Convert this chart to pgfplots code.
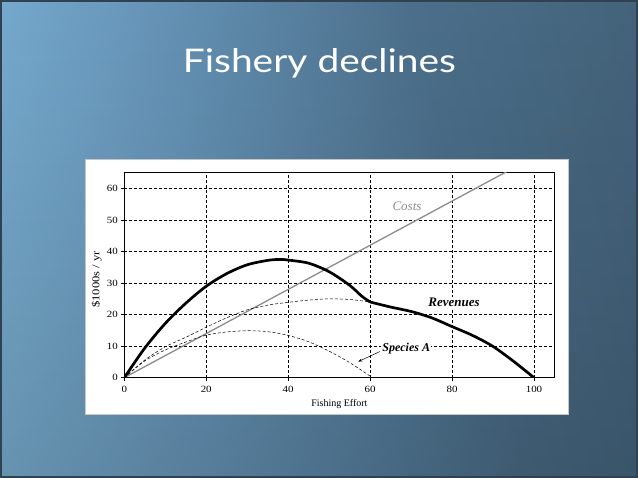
\documentclass[border=0pt]{standalone}
\usepackage{fontspec}
\setmainfont{Liberation Serif}
\newfontfamily\titlefont{Lato}
\usepackage{graphicx}
\usepackage{pgfplots}
\pgfplotsset{compat=1.18}
\usetikzlibrary{fadings,arrows.meta}

\definecolor{bgA}{RGB}{100,150,188}
\definecolor{bgB}{RGB}{128,184,220}
\definecolor{bgC}{RGB}{106,154,190}
\definecolor{bgD}{RGB}{76,112,140}
\definecolor{bgE}{RGB}{60,86,106}
\definecolor{bgEdge}{RGB}{48,66,82}
\definecolor{costgray}{RGB}{140,140,140}

\pgfdeclarehorizontalshading{slidebg}{100bp}{color(0bp)=(bgA); color(20bp)=(bgB); color(38bp)=(bgC); color(62bp)=(bgD); color(100bp)=(bgE)}

\begin{document}
\begin{tikzpicture}[x=1pt,y=1pt]
\useasboundingbox (0,0) rectangle (638,478);
% slide background
\shade[shading=slidebg, shading angle=14] (0,0) rectangle (638,478);
\fill[black, fill opacity=0.2, path fading=north] (0,0) rectangle (638,478);
\draw[bgEdge, line width=2pt] (1,1) rectangle (637,477);

% title
\node[anchor=base west, inner sep=0, text=white] at (182.7,405.7)
  {\resizebox{273pt}{24pt}{\titlefont Fishery declines}};

% white panel
\filldraw[fill=white, draw=gray!45, line width=0.8pt] (85,63.7) rectangle (568.3,318.7);

\begin{axis}[
  at={(124.3pt,100.3pt)}, anchor=south west,
  scale only axis, width=430.2pt, height=205pt,
  xmin=0, xmax=105, ymin=0, ymax=65,
  xtick={0,20,40,60,80,100},
  ytick={0,10,20,30,40,50,60},
  tick pos=left, tick align=outside, major tick length=3pt,
  every tick/.style={black, line width=0.8pt},
  grid=major,
  grid style={black, line width=0.5pt, dash pattern=on 3pt off 2pt},
  axis line style={black, line width=1pt},
  /pgf/number format/assume math mode=true,
  ticklabel style={font=\fontsize{9.5}{11}\selectfont},
  xticklabel style={yshift=-1.5pt},
  xticklabel={\scalebox{1.15}[1]{\pgfmathprintnumber{\tick}}},
  yticklabel={\scalebox{1.15}[1]{\pgfmathprintnumber{\tick}}},
  xlabel={Fishing Effort},
  xlabel style={at={(axis description cs:0.5,-0.127)}, anchor=center, font=\fontsize{10}{12}\selectfont},
  ylabel={\scalebox{1.2}[1]{\$1000s / yr}},
  ylabel style={at={(axis description cs:-0.064,0.48)}, anchor=center, font=\fontsize{10.5}{12}\selectfont},
]

% Costs
\addplot[costgray, line width=1.3pt] coordinates {(0,0) (100,70)};

% Species B (upper dashed)
\addplot[black, line width=0.5pt, dash pattern=on 3pt off 2pt, smooth, tension=0.5] coordinates {
  (0,0) (5,5.6) (10,9.8) (15,12.8) (20,16.0) (25,19.0) (30,21.5) (35,23.0)
  (40,23.9) (45,24.6) (50,25.0) (55,24.8) (60,24.0)
};

% Species A (lower dashed)
\addplot[black, line width=0.5pt, dash pattern=on 3pt off 2pt, smooth, tension=0.5] coordinates {
  (0,0) (5,5.3) (10,8.8) (15,11.3) (20,13.5) (25,14.5) (30,14.9) (35,14.6)
  (40,13.4) (45,11.4) (50,8.4) (55,4.8) (60,0.5)
};

% Revenues
\addplot[black, line width=2.7pt, line join=round, smooth, tension=0.5] coordinates {
  (0,0) (5,9.4) (10,17.2) (15,23.6) (20,29.0) (25,33.0) (30,35.8) (35,37.2)
  (38,37.5) (40,37.3) (45,36.3) (50,33.6) (55,29.3) (58,25.8) (60,24.0)
};
\addplot[black, line width=2.7pt, line join=round, smooth, tension=0.5] coordinates {
  (60,24.0) (65,22.4) (70,21.0) (75,19.0) (80,16.2) (85,13.4) (90,9.9) (95,5.2) (100,0)
};

\node[text=costgray, font=\itshape\fontsize{13}{15}\selectfont] at (axis cs:69,54.2) {Costs};
\node[fill=white, inner sep=1pt, font=\bfseries\itshape\fontsize{13}{15}\selectfont] at (axis cs:80.5,23.9) {Revenues};
\node[fill=white, inner sep=1pt, font=\bfseries\itshape\fontsize{12}{14}\selectfont] at (axis cs:68.8,9.3) {Species A};
\draw[-{Stealth[length=4pt,width=3pt]}, line width=0.5pt] (axis cs:62.4,8.3) -- (axis cs:57.1,5.1);
\end{axis}
\end{tikzpicture}
\end{document}
